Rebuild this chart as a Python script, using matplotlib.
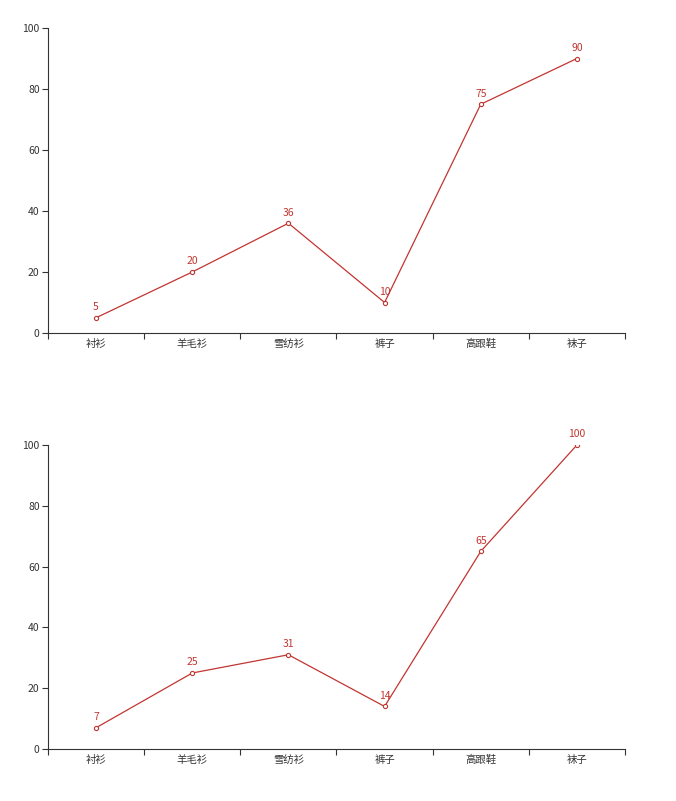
import matplotlib
matplotlib.use("Agg")
import matplotlib.pyplot as plt
import numpy as np

plt.rcParams['font.family'] = ['Noto Sans CJK SC', 'DejaVu Sans']

categories = ["衬衫", "羊毛衫", "雪纺衫", "裤子", "高跟鞋", "袜子"]
values_top = [5, 20, 36, 10, 75, 90]
values_bottom = [7, 25, 31, 14, 65, 100]

color = "#c23531"
fig = plt.figure(figsize=(6.76, 8.01), dpi=100)

def draw(ax, vals):
    x = np.arange(len(categories))
    ax.plot(x, vals, color=color, lw=0.9, marker='o', ms=3,
            markerfacecolor='white', markeredgecolor=color, markeredgewidth=0.8)
    for xi, v in zip(x, vals):
        ax.annotate(str(v), (xi, v), xytext=(0, 4), textcoords='offset points',
                    ha='center', va='bottom', color=color, fontsize=7.5)
    ax.set_xlim(-0.5, len(categories) - 0.5)
    ax.set_ylim(0, 100)
    ax.set_yticks([0, 20, 40, 60, 80, 100])
    ax.set_xticks(np.arange(-0.5, len(categories), 1.0))
    ax.set_xticklabels([])
    ax.set_xticks(x, minor=True)
    ax.set_xticklabels(categories, minor=True)
    ax.tick_params(axis='x', which='minor', length=0, labelsize=7.5, colors='#333333', pad=4)
    ax.tick_params(axis='x', which='major', length=4, color='#333333')
    ax.tick_params(axis='y', length=4, labelsize=7.5, colors='#333333', pad=2)
    for s in ['top', 'right']:
        ax.spines[s].set_visible(False)
    for s in ['left', 'bottom']:
        ax.spines[s].set_color('#333333')
        ax.spines[s].set_linewidth(0.8)

ax1 = fig.add_axes([48/676, 1-333/801, 577/676, 305/801])
draw(ax1, values_top)
ax2 = fig.add_axes([48/676, 1-749/801, 577/676, 304/801])
draw(ax2, values_bottom)

fig.savefig("out.png", dpi=100)
